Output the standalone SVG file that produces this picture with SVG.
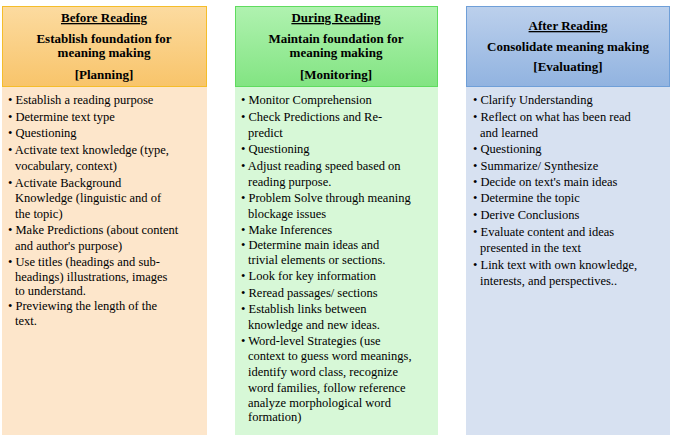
<svg xmlns="http://www.w3.org/2000/svg" width="679" height="441" viewBox="0 0 679 441">
<style>
text{font-family:"Liberation Serif","Times New Roman",serif;font-size:12.5px;fill:#000}
.h{font-weight:bold;font-size:13px;text-anchor:middle}
.u{text-decoration:underline}
</style>
<defs>
<linearGradient id="go" x1="0" y1="0" x2="0" y2="1"><stop offset="0" stop-color="#fcdba0"/><stop offset="1" stop-color="#f8c46a"/></linearGradient>
<linearGradient id="gg" x1="0" y1="0" x2="0" y2="1"><stop offset="0" stop-color="#b0f2b0"/><stop offset="1" stop-color="#82e482"/></linearGradient>
<linearGradient id="gb" x1="0" y1="0" x2="0" y2="1"><stop offset="0" stop-color="#bcd0ec"/><stop offset="1" stop-color="#91b3e0"/></linearGradient>
</defs>
<rect width="679" height="441" fill="#fff"/>
<g id="before">
<rect x="2" y="87" width="205" height="348" fill="#fde6cb"/>
<rect x="2.5" y="6.5" width="204" height="80" fill="url(#go)" stroke="#f5bd2a"/>
<text class="h u" x="104" y="22">Before Reading</text>
<text class="h" x="104" y="43">Establish foundation for</text>
<text class="h" x="104" y="57">meaning making</text>
<text class="h" x="104" y="79">[Planning]</text>
<g>
<text x="8" y="104">• Establish a reading purpose</text>
<text x="8" y="121">• Determine text type</text>
<text x="8" y="137">• Questioning</text>
<text x="8" y="154">• Activate text knowledge (type,</text>
<text x="15" y="170">vocabulary, context)</text>
<text x="8" y="187">• Activate Background</text>
<text x="15" y="202">Knowledge (linguistic and of</text>
<text x="15" y="218">the topic)</text>
<text x="8" y="234">• Make Predictions (about content</text>
<text x="15" y="250">and author's purpose)</text>
<text x="8" y="266">• Use titles (headings and sub-</text>
<text x="15" y="281">headings) illustrations, images</text>
<text x="15" y="295">to understand.</text>
<text x="8" y="310">• Previewing the length of the</text>
<text x="15" y="325">text.</text>
</g>
</g>
<g id="during">
<rect x="235" y="87" width="203" height="348" fill="#d7f8d7"/>
<rect x="235.5" y="6.5" width="202" height="80" fill="url(#gg)" stroke="#5fdc5f"/>
<text class="h u" x="336" y="22">During Reading</text>
<text class="h" x="336" y="43">Maintain foundation for</text>
<text class="h" x="336" y="57">meaning making</text>
<text class="h" x="336" y="79">[Monitoring]</text>
<g>
<text x="241" y="104">• Monitor Comprehension</text>
<text x="241" y="121">• Check Predictions and Re-</text>
<text x="248" y="137">predict</text>
<text x="241" y="153">• Questioning</text>
<text x="241" y="170">• Adjust reading speed based on</text>
<text x="248" y="186">reading purpose.</text>
<text x="241" y="202">• Problem Solve through meaning</text>
<text x="248" y="218">blockage issues</text>
<text x="241" y="234">• Make Inferences</text>
<text x="241" y="249">• Determine main ideas and</text>
<text x="248" y="264">trivial elements or sections.</text>
<text x="241" y="280">• Look for key information</text>
<text x="241" y="297">• Reread passages/ sections</text>
<text x="241" y="313">• Establish links between</text>
<text x="248" y="329">knowledge and new ideas.</text>
<text x="241" y="345">• Word-level Strategies (use</text>
<text x="248" y="360">context to guess word meanings,</text>
<text x="248" y="376">identify word class, recognize</text>
<text x="248" y="392">word families, follow reference</text>
<text x="248" y="407">analyze morphological word</text>
<text x="248" y="421">formation)</text>
</g>
</g>
<g id="after">
<rect x="466" y="87" width="204" height="348" fill="#d7e1f1"/>
<rect x="466.5" y="6.5" width="203" height="80" fill="url(#gb)" stroke="#6f9fd8"/>
<text class="h u" x="568" y="30">After Reading</text>
<text class="h" x="568" y="51">Consolidate meaning making</text>
<text class="h" x="568" y="71">[Evaluating]</text>
<g>
<text x="473" y="104">• Clarify Understanding</text>
<text x="473" y="121">• Reflect on what has been read</text>
<text x="480" y="137">and learned</text>
<text x="473" y="153">• Questioning</text>
<text x="473" y="170">• Summarize/ Synthesize</text>
<text x="473" y="186">• Decide on text's main ideas</text>
<text x="473" y="202">• Determine the topic</text>
<text x="473" y="219">• Derive Conclusions</text>
<text x="473" y="236">• Evaluate content and ideas</text>
<text x="480" y="252">presented in the text</text>
<text x="473" y="269">• Link text with own knowledge,</text>
<text x="480" y="285">interests, and perspectives..</text>
</g>
</g>
<g id="connectors"/>
</svg>
